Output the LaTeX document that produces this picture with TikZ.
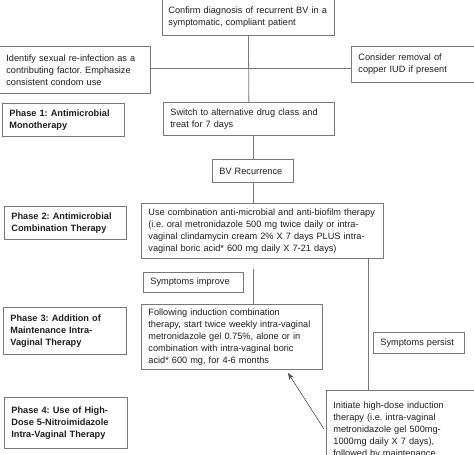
\documentclass[tikz,border=0pt]{standalone}
\usepackage{fontspec}
\setmainfont{Liberation Sans}
\usetikzlibrary{arrows.meta}
\definecolor{linegray}{RGB}{120,120,120}
\definecolor{txt}{RGB}{30,30,30}
\frenchspacing
\tikzset{
  box/.style={draw=linegray, line width=0.8pt, rectangle, anchor=north west,
    inner xsep=7pt, inner ysep=3pt, align=left,
    font=\fontsize{9.2}{12}\selectfont, text=txt},
  phasebox/.style={box, font=\fontsize{9.2}{12}\selectfont\bfseries},
  conn/.style={draw=linegray, line width=0.8pt},
  arr/.style={draw=txt!80, line width=0.6pt, -{Stealth[length=7pt,width=5pt]}}
}
\begin{document}
\begin{tikzpicture}[x=1pt,y=-1pt]
\useasboundingbox (0,0) rectangle (474,455);
\clip (0,0) rectangle (474,455);

\node[box, inner xsep=6pt, text width=160pt, minimum height=37pt] (top) at (162,-2)
  {Confirm diagnosis of recurrent BV in a\\symptomatic, compliant patient};
\node[box, text width=137pt, minimum height=47pt] (ident) at (-1,46)
  {Identify sexual re-infection as a\\contributing factor. Emphasize\\consistent condom use};
\node[box, text width=111pt, minimum height=36pt] (iud) at (351,46)
  {Consider removal of\\copper IUD if present};
\node[phasebox, text width=108pt, minimum height=33pt] (p1) at (2,103)
  {Phase 1: Antimicrobial\\Monotherapy};
\node[box, text width=157pt, minimum height=33pt] (switch) at (163,102)
  {Switch to alternative drug class and\\treat for 7 days};
\node[box, text width=67pt, minimum height=23pt] (bv) at (212,159)
  {BV Recurrence};
\node[box, text width=228pt, minimum height=55pt] (combo) at (141,203)
  {Use combination anti-microbial and anti-biofilm therapy\\(i.e. oral metronidazole 500 mg twice daily or intra-\\vaginal clindamycin cream 2\% X 7 days PLUS intra-\\vaginal boric acid* 600 mg daily X 7-21 days)};
\node[phasebox, text width=108pt, minimum height=33pt] (p2) at (4,206)
  {Phase 2: Antimicrobial\\Combination Therapy};
\node[box, text width=86pt, minimum height=20pt] (improve) at (143,272)
  {Symptoms improve};
\node[box, text width=167pt, minimum height=65pt] (p3) at (141,304)
  {Following induction combination\\therapy, start twice weekly intra-vaginal\\metronidazole gel 0.75\%, alone or in\\combination with intra-vaginal boric\\acid* 600 mg, for 4-6 months};
\node[phasebox, text width=109pt, minimum height=47pt] (p3l) at (3,307)
  {Phase 3: Addition of\\Maintenance Intra-\\Vaginal Therapy};
\node[box, text width=77pt, minimum height=21pt] (persist) at (373,332)
  {Symptoms persist};
\node[box, text width=140pt, inner ysep=5pt, minimum height=80pt] (hd) at (326,390)
  {Initiate high-dose induction\\therapy (i.e. intra-vaginal\\metronidazole gel 500mg-\\1000mg daily X 7 days),\\followed by maintenance};
\node[phasebox, text width=109pt, minimum height=51pt] (p4) at (4,397)
  {Phase 4: Use of High-\\Dose 5-Nitroimidazole\\Intra-Vaginal Therapy};

\coordinate (junc) at (249,68);
\draw[conn] (top.south) -- (switch.north);
\draw[conn] (ident.east |- junc) -- (iud.west |- junc);
\draw[conn] (bv.north |- switch.south) -- (bv.north);
\draw[conn] (bv.south) -- (bv.south |- combo.north);
\draw[conn] ([yshift=-10pt]bv.south |- combo.south) -- (bv.south |- p3.north);
\draw[conn] ([xshift=-15pt]combo.south east) -- ([xshift=-15pt]combo.south east |- hd.north);
\draw[arr] ([xshift=-2pt,yshift=-39pt]hd.north west) -- ([xshift=56pt,yshift=-3pt]p3.south);
\end{tikzpicture}
\end{document}
